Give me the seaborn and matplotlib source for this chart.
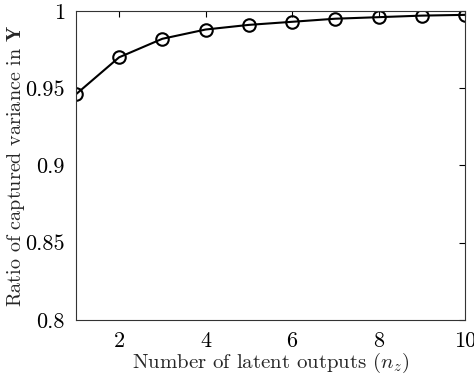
import numpy as np
import pandas as pd
import matplotlib
matplotlib.use("Agg")
import matplotlib.pyplot as plt
import seaborn as sns

# Data
n_latent = [1, 2, 3, 4, 5, 6, 7, 8, 9, 10]
ratio_captured = [0.946, 0.970, 0.982, 0.988, 0.991, 0.993, 0.995, 0.996, 0.997, 0.9975]
x_ticks = [2, 4, 6, 8, 10]
y_ticks = [0.8, 0.85, 0.9, 0.95, 1.0]
y_tick_labels = ["0.8", "0.85", "0.9", "0.95", "1"]

df = pd.DataFrame({"n": n_latent, "ratio": ratio_captured})

sns.set_style("white")
plt.rcParams["font.family"] = ["cmr10", "DejaVu Serif"]
plt.rcParams["mathtext.fontset"] = "cm"
plt.rcParams["axes.formatter.use_mathtext"] = True

fig = plt.figure(figsize=(4.74, 3.79), dpi=100)
ax = fig.add_axes([0.160, 0.156, 0.821, 0.815])

sns.lineplot(data=df, x="n", y="ratio", ax=ax, color="black", linewidth=1.5,
             marker="o", markersize=9, markerfacecolor="none",
             markeredgecolor="black", markeredgewidth=1.5)

ax.set_xlim(1, 10)
ax.set_ylim(0.8, 1.0)
ax.set_xticks(x_ticks)
ax.set_xticklabels([str(t) for t in x_ticks])
ax.set_yticks(y_ticks)
ax.set_yticklabels(y_tick_labels)
ax.tick_params(direction="in", top=True, right=True, length=4, width=0.8,
               labelsize=16, colors="black")
ax.tick_params(axis="x", pad=8)
ax.tick_params(axis="y", pad=8)
for s in ax.spines.values():
    s.set_color("#333333")
    s.set_linewidth(0.8)

ax.set_xlabel(r"Number of latent outputs ($n_z$)", fontsize=15)
ax.set_ylabel(r"Ratio of captured variance in $\mathbf{Y}$", fontsize=14.5)
ax.xaxis.set_label_coords(0.5, -0.10)
ax.yaxis.set_label_coords(-0.125, 0.5)

fig.savefig("out.png", dpi=100)
